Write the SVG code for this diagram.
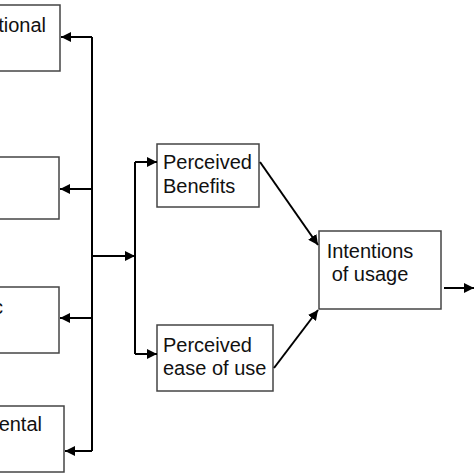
<svg xmlns="http://www.w3.org/2000/svg" width="474" height="474" viewBox="0 0 474 474">
<style>
.box{fill:#fff;stroke:#444;stroke-width:1.5}
.t{font-family:"Liberation Sans",Arial,sans-serif;font-size:20px;fill:#111}
.c{fill:none;stroke:#000;stroke-width:2}
</style>
<defs>
<marker id="ah" markerWidth="10" markerHeight="10" refX="10" refY="5" orient="auto" markerUnits="userSpaceOnUse">
<path d="M0,0 L10,5 L0,10 Z" fill="#000"/>
</marker>
</defs>
<rect width="474" height="474" fill="#fff"/>
<g id="n1"><rect class="box" x="-10" y="5" width="70" height="66"/><text class="t" x="46" y="32" text-anchor="end">tional</text></g>
<g id="n2"><rect class="box" x="-10" y="157" width="69" height="62"/></g>
<g id="n3"><rect class="box" x="-10" y="287" width="69" height="66"/><text class="t" x="3" y="314" text-anchor="end">c</text></g>
<g id="n4"><rect class="box" x="-10" y="406" width="74" height="66"/><text class="t" x="42" y="431" text-anchor="end">ental</text></g>
<g id="pb"><rect class="box" x="157" y="144" width="102" height="63"/><text class="t" x="163" y="169">Perceived</text><text class="t" x="163" y="193">Benefits</text></g>
<g id="pe"><rect class="box" x="157" y="325" width="116" height="66"/><text class="t" x="163" y="352">Perceived</text><text class="t" x="163" y="375">ease of use</text></g>
<g id="iu"><rect class="box" x="319" y="231" width="122" height="78"/><text class="t" x="370" y="258" text-anchor="middle">Intentions</text><text class="t" x="370" y="281" text-anchor="middle">of usage</text></g>
<g id="connectors">
<path class="c" d="M92,37 L92,451"/>
<path class="c" d="M92,37 L61,37" marker-end="url(#ah)"/>
<path class="c" d="M92,189 L60,189" marker-end="url(#ah)"/>
<path class="c" d="M92,318 L60,318" marker-end="url(#ah)"/>
<path class="c" d="M92,451 L65,451" marker-end="url(#ah)"/>
<path class="c" d="M92,256 L135,256" marker-end="url(#ah)"/>
<path class="c" d="M135,162 L135,354"/>
<path class="c" d="M135,162 L157,162" marker-end="url(#ah)"/>
<path class="c" d="M135,354 L157,354" marker-end="url(#ah)"/>
<path class="c" d="M260,162 L318,245" marker-end="url(#ah)"/>
<path class="c" d="M274,368 L318,310" marker-end="url(#ah)"/>
<path class="c" d="M444,288 L474,288" marker-end="url(#ah)"/>
</g>
</svg>
